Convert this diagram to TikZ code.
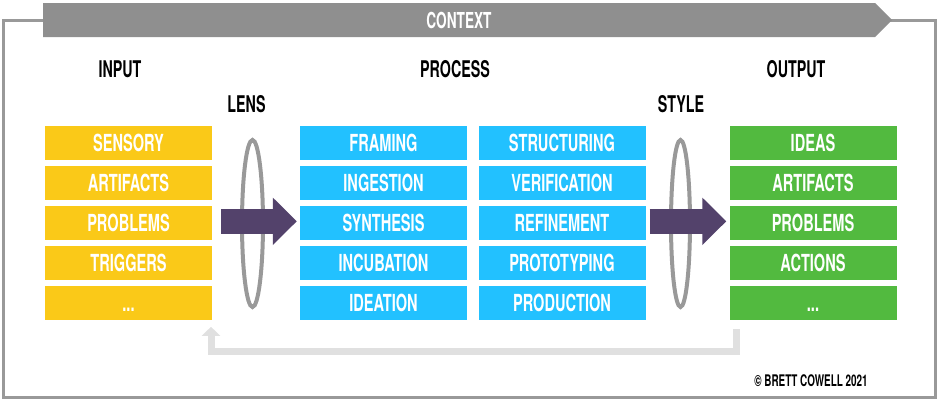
\documentclass[tikz,border=0pt]{standalone}
\usepackage{fontspec}
\setmainfont{TeX Gyre Heros}[FakeStretch=0.62]
\usetikzlibrary{positioning,arrows.meta,shapes.symbols}
\definecolor{InYellow}{RGB}{250,201,24}
\definecolor{ProcBlue}{RGB}{34,193,255}
\definecolor{OutGreen}{RGB}{82,186,63}
\definecolor{ArrowPurple}{RGB}{83,66,107}
\definecolor{BannerGray}{RGB}{143,143,143}
\definecolor{FrameGray}{RGB}{153,153,153}
\definecolor{BackGray}{RGB}{224,224,224}

\begin{document}
\begin{tikzpicture}[x=1pt,y=-1pt,
node distance=5.5pt,
cell/.style={rectangle,minimum width=167pt,minimum height=34pt,inner sep=0pt,text height=17pt,text depth=0pt,text=white,font=\fontsize{23.5}{24}\selectfont\bfseries},
inbox/.style={cell,fill=InYellow},
procbox/.style={cell,fill=ProcBlue},
outbox/.style={cell,fill=OutGreen},
head/.style={font=\fontsize{23}{23}\selectfont\bfseries},
bigarrow/.style={-{Triangle[length=24pt,width=46pt]},line width=25pt,draw=ArrowPurple},
ring/.style={draw=FrameGray,line width=4pt},
back/.style={-{Triangle[length=9pt,width=18pt]},line width=7pt,draw=BackGray}
]
\useasboundingbox (0,0) rectangle (938,400);
\draw[line width=3pt,draw=FrameGray] (3,20) rectangle (935,397);
\node[signal,signal to=east,fill=BannerGray,minimum width=849pt,minimum height=34pt,inner sep=0pt,text=white,font=\fontsize{22}{22}\selectfont\bfseries] (ctx) at (459,20) {CONTEXT};

\node[head] (input) at (120,69.5) {INPUT};
\node[head] (process) at (455,69.5) {PROCESS};
\node[head] (output) at (796,69.5) {OUTPUT};
\node[head] (lens) at (246.5,104.5) {LENS};
\node[head] (style) at (681,104.5) {STYLE};

% input
\node[inbox] (in1) at (128.5,143) {SENSORY};
\node[inbox,below=of in1] (in2) {ARTIFACTS};
\node[inbox,below=of in2] (in3) {PROBLEMS};
\node[inbox,below=of in3] (in4) {TRIGGERS};
\node[inbox,below=of in4] (in5) {...};

% process
\node[procbox] (pa1) at (383.5,143) {FRAMING};
\node[procbox,below=of pa1] (pa2) {INGESTION};
\node[procbox,below=of pa2] (pa3) {SYNTHESIS};
\node[procbox,below=of pa3] (pa4) {INCUBATION};
\node[procbox,below=of pa4] (pa5) {IDEATION};
\node[procbox] (pb1) at (562,143) {STRUCTURING};
\node[procbox,below=of pb1] (pb2) {VERIFICATION};
\node[procbox,below=of pb2] (pb3) {REFINEMENT};
\node[procbox,below=of pb3] (pb4) {PROTOTYPING};
\node[procbox,below=of pb4] (pb5) {PRODUCTION};

% output
\node[outbox] (out1) at (813,143) {IDEAS};
\node[outbox,below=of out1] (out2) {ARTIFACTS};
\node[outbox,below=of out2] (out3) {PROBLEMS};
\node[outbox,below=of out3] (out4) {ACTIONS};
\node[outbox,below=of out4] (out5) {...};

% lens and style
\draw[ring] (252.5,223.5) ellipse [x radius=10.5, y radius=83.5];
\draw[ring] (680.5,223.5) ellipse [x radius=9.5, y radius=83.5];
\draw[bigarrow] ([xshift=9pt,yshift=1.5pt]in3.east) -- ([xshift=-3pt,yshift=1.5pt]pa3.west);
\draw[bigarrow] ([xshift=4pt,yshift=1.5pt]pb3.east) -- ([xshift=-3pt,yshift=1.5pt]out3.west);

% feedback
\draw[back] ([xshift=-77pt,yshift=-9pt]out5.south) -- ++(0,23) -| ([xshift=82.5pt,yshift=-7pt]in5.south);

\node[font=\fontsize{16}{16}\selectfont\bfseries] (copy) at (811,380.5) {© BRETT COWELL 2021};
\end{tikzpicture}
\end{document}
